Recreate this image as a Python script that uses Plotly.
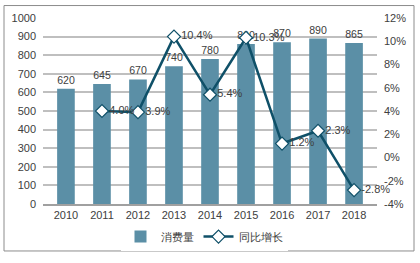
import plotly.graph_objects as go

years = ["2010", "2011", "2012", "2013", "2014", "2015", "2016", "2017", "2018"]
consumption = [620, 645, 670, 740, 780, 860, 870, 890, 865]
growth = [None, 4.0, 3.9, 10.4, 5.4, 10.3, 1.2, 2.3, -2.8]
left_ticks = [0, 100, 200, 300, 400, 500, 600, 700, 800, 900, 1000]
right_ticks = [-4, -2, 0, 2, 4, 6, 8, 10, 12]

W, H = 420, 263
ml, mr, mt, mb = 43, 43, 15, 54
pw, ph = W - ml - mr, H - mt - mb

def px2paper(x, y):
    return (x - ml) / pw, (H - mb - y) / ph

font = dict(family="Liberation Sans, Arial, sans-serif", size=11, color="#404040")

fig = go.Figure()
fig.add_trace(go.Bar(
    x=years, y=consumption, name="消费量",
    marker=dict(color="#5b8fa6", line=dict(width=0)),
    text=[str(v) for v in consumption], textposition="outside",
    textfont=font, cliponaxis=False, yaxis="y",
))
fig.add_trace(go.Scatter(
    x=years, y=growth, name="同比增长", yaxis="y2",
    mode="lines+markers+text",
    line=dict(color="#0f5068", width=2.5),
    marker=dict(symbol="diamond", size=10, color="white",
                line=dict(color="#0f5068", width=1.2)),
    text=[("" if g is None else f"{g:.1f}%") for g in growth],
    textposition="middle right", textfont=font, cliponaxis=False,
))

x0, y0 = px2paper(4, 2)
x1, y1 = px2paper(414, 258)
fig.add_shape(type="rect", xref="paper", yref="paper",
              x0=x0, y0=y1, x1=x1, y1=y0,
              line=dict(color="#8c8c8c", width=1), fillcolor="rgba(0,0,0,0)")

fig.update_layout(
    width=W, height=H,
    margin=dict(l=ml, r=mr, t=mt, b=mb),
    paper_bgcolor="white", plot_bgcolor="white",
    font=font,
    bargap=0.51,
    showlegend=True,
    legend=dict(orientation="h", x=px2paper(204, 0)[0], xanchor="center",
                y=px2paper(0, 243)[1], yanchor="middle",
                font=font, itemwidth=30),
    xaxis=dict(type="category", showgrid=False, ticks="",
               showline=True, linecolor="#a0a0a0", linewidth=1.5,
               tickfont=font),
    yaxis=dict(range=[0, 1000], tickvals=left_ticks, showgrid=True,
               gridcolor="#bfbfbf", gridwidth=1.5, zeroline=False,
               showline=False, ticks="", tickfont=font, ticklabelstandoff=6),
    yaxis2=dict(range=[-4, 12], tickvals=right_ticks,
                ticktext=[f"{t}%" for t in right_ticks],
                overlaying="y", side="right", showgrid=False,
                zeroline=False, showline=False, ticks="", tickfont=font,
                ticklabelstandoff=6),
    hovermode=False,
)

fig.write_html("out.html")
